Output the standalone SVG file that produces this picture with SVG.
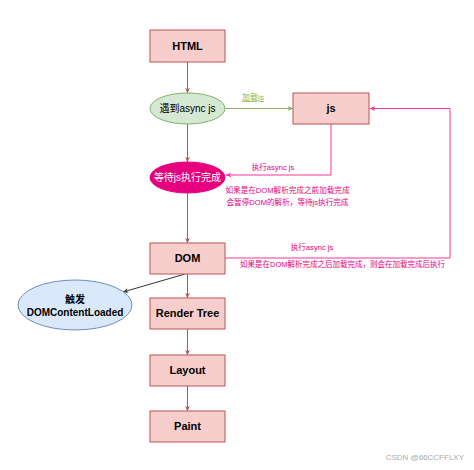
<svg xmlns="http://www.w3.org/2000/svg" width="474" height="470" viewBox="0 0 474 470">
<style>
.box{fill:#f8cecc;stroke:#b85450;stroke-width:1}
.bt{font-family:"Liberation Sans","Noto Sans CJK SC",sans-serif;font-size:11px;font-weight:bold;fill:#000;text-anchor:middle}
.lbl{font-family:"Liberation Sans","Noto Sans CJK SC",sans-serif;font-size:7.6px;fill:#e6007e;text-anchor:middle}
.flow{stroke:#b85450;stroke-width:1;fill:none}
.pink{stroke:#ff3399;stroke-width:1;fill:none}
</style>
<defs>
<marker id="ar" viewBox="0 0 10 10" refX="9" refY="5" markerWidth="6" markerHeight="6" orient="auto"><path d="M0,1 L10,5 L0,9 L3,5 Z" fill="#b85450"/></marker>
<marker id="ap" viewBox="0 0 10 10" refX="9" refY="5" markerWidth="6" markerHeight="6" orient="auto"><path d="M0,1 L10,5 L0,9 L3,5 Z" fill="#ff3399"/></marker>
<marker id="ag" viewBox="0 0 10 10" refX="9" refY="5" markerWidth="6" markerHeight="6" orient="auto"><path d="M0,1 L10,5 L0,9 L3,5 Z" fill="#82b366"/></marker>
<marker id="ak" viewBox="0 0 10 10" refX="9" refY="5" markerWidth="6" markerHeight="6" orient="auto"><path d="M0,1 L10,5 L0,9 L3,5 Z" fill="#333"/></marker>
</defs>
<rect width="474" height="470" fill="#fff"/>
<g id="connectors">
<line class="flow" x1="187.5" y1="62" x2="187.5" y2="93" marker-end="url(#ar)"/>
<line class="flow" x1="187.5" y1="124" x2="187.5" y2="162" marker-end="url(#ar)"/>
<line class="flow" x1="187.5" y1="193" x2="187.5" y2="243" marker-end="url(#ar)"/>
<line class="flow" x1="187.5" y1="274" x2="187.5" y2="298" marker-end="url(#ar)"/>
<line class="flow" x1="187.5" y1="329" x2="187.5" y2="355" marker-end="url(#ar)"/>
<line class="flow" x1="187.5" y1="386" x2="187.5" y2="411" marker-end="url(#ar)"/>
<line x1="225" y1="108.5" x2="293" y2="108.5" stroke="#82b366" stroke-width="1" marker-end="url(#ag)"/>
<text x="253" y="100" font-family="Liberation Sans,Noto Sans CJK SC,sans-serif" font-size="8" fill="#82b366" text-anchor="middle" text-decoration="underline">加载js</text>
<polyline class="pink" points="331,124 331,175 226,175" marker-end="url(#ap)"/>
<text class="lbl" x="273" y="170">执行async js</text>
<text class="lbl" x="287.5" y="193">如果是在DOM解析完成之前加载完成</text>
<text class="lbl" x="287.5" y="205">会暂停DOM的解析，等待js执行完成</text>
<polyline class="pink" points="225,258 450,258 450,108.5 370,108.5" marker-end="url(#ap)"/>
<text class="lbl" x="312" y="250">执行async js</text>
<text class="lbl" x="342.5" y="267" style="font-size:7.5px">如果是在DOM解析完成之后加载完成，则会在加载完成后执行</text>
<line x1="185" y1="274" x2="123" y2="292" stroke="#333" stroke-width="1" marker-end="url(#ak)"/>
</g>
<g id="html"><rect class="box" x="150" y="30" width="75" height="32"/><text class="bt" x="187.5" y="50">HTML</text></g>
<g id="async"><ellipse cx="187.5" cy="108.5" rx="37.5" ry="15.5" fill="#d5e8d4" stroke="#82b366"/><text x="187.5" y="112" font-family="Liberation Sans,Noto Sans CJK SC,sans-serif" font-size="10" fill="#000" text-anchor="middle">遇到async js</text></g>
<g id="js"><rect class="box" x="293" y="93" width="76" height="31"/><text class="bt" x="331" y="112">js</text></g>
<g id="wait"><ellipse cx="187.5" cy="177.5" rx="37.5" ry="15.5" fill="#e6007e" stroke="#e6007e"/><text x="187.5" y="181" font-family="Liberation Sans,Noto Sans CJK SC,sans-serif" font-size="10" fill="#fff" text-anchor="middle">等待js执行完成</text></g>
<g id="dom"><rect class="box" x="150" y="243" width="75" height="31"/><text class="bt" x="187.5" y="262">DOM</text></g>
<g id="dcl"><ellipse cx="75" cy="305" rx="57" ry="25" fill="#dae8fc" stroke="#6c8ebf"/><text class="bt" x="75" y="303" style="font-size:10px">触发</text><text class="bt" x="75" y="316" style="font-size:10px">DOMContentLoaded</text></g>
<g id="render"><rect class="box" x="150" y="298" width="75" height="31"/><text class="bt" x="187.5" y="317">Render Tree</text></g>
<g id="layout"><rect class="box" x="150" y="355" width="75" height="31"/><text class="bt" x="187.5" y="374">Layout</text></g>
<g id="paint"><rect class="box" x="150" y="411" width="75" height="31"/><text class="bt" x="187.5" y="430">Paint</text></g>
<text x="464" y="460" font-family="Liberation Sans,sans-serif" font-size="8" fill="#aaa" text-anchor="end">CSDN @66CCFFLXY</text>
</svg>
